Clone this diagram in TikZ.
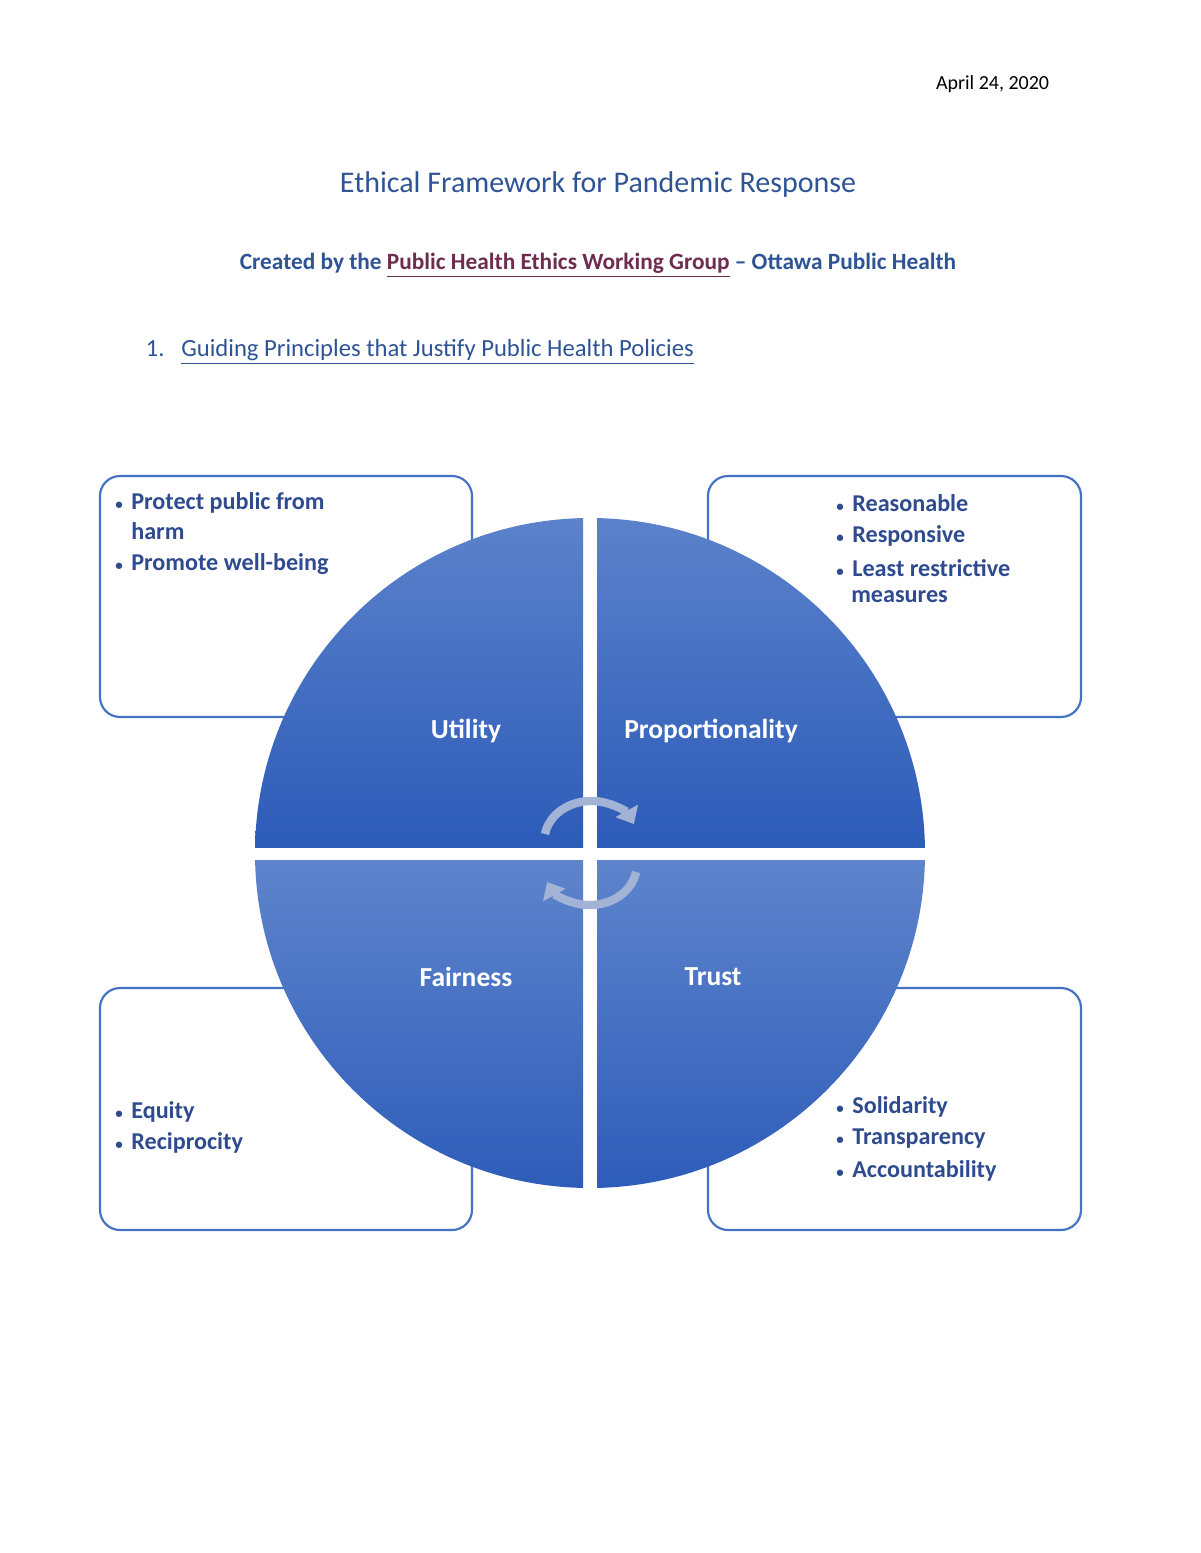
\documentclass[tikz,border=0pt]{standalone}
\usepackage{fontspec}
\setmainfont{Carlito}
\usetikzlibrary{arrows.meta}
\definecolor{boxblue}{HTML}{4472C4}
\definecolor{txtblue}{HTML}{2F4B8F}
\definecolor{titleblue}{HTML}{2F5496}
\definecolor{linkred}{HTML}{6E2C4F}
\definecolor{qtop}{HTML}{5E84CC}
\definecolor{qbot}{HTML}{2C5BB8}
\definecolor{arr}{HTML}{A3B3D6}
\begin{document}
\begin{tikzpicture}[x=0.6pt,y=-0.6pt,
  pbox/.style={draw=boxblue,line width=1.3pt,rounded corners=12pt,fill=white},
  blt/.style={anchor=west,inner sep=0pt,text=txtblue,font=\fontsize{14.5}{16}\selectfont\bfseries},
  qlabel/.style={text=white,font=\fontsize{16.5}{18}\selectfont\bfseries},
  carrow/.style={draw=arr,line width=5pt,-{Triangle[length=9pt,width=15pt]}}]
\useasboundingbox (0,0) rectangle (1200,1553);
\fill[white] (0,0) rectangle (1200,1553);
\node[anchor=east,font=\fontsize{12}{14}\selectfont] (date) at (1055,84) {April 24, 2020};
\node[text=titleblue,font=\fontsize{18}{21}\selectfont] (title) at (598,184) {Ethical Framework for Pandemic Response};
\node[text=titleblue,font=\fontsize{14}{16}\selectfont\bfseries] (sub) at (598,265) {Created by the \textcolor{linkred}{\underline{Public Health Ethics Working Group}} -- Ottawa Public Health};
\node[anchor=west,text=titleblue,font=\fontsize{14.8}{17}\selectfont] (h1) at (140,352) {1.\hspace{10pt}\underline{Guiding Principles that Justify Public Health Policies}};
% boxes
\draw[pbox] (100,476) rectangle (472,717);
\draw[pbox] (708,476) rectangle (1081,717);
\draw[pbox] (100,988) rectangle (472,1230);
\draw[pbox] (708,988) rectangle (1081,1230);
% circle quadrants
\begin{scope}
\clip (590,853) circle (335);
\shade[top color=qtop,bottom color=qbot] (200,500) rectangle (583,847);
\shade[top color=qtop,bottom color=qbot] (597,500) rectangle (1000,847);
\shade[top color=qtop,bottom color=qbot] (200,860) rectangle (583,1200);
\shade[top color=qtop,bottom color=qbot] (597,860) rectangle (1000,1200);
\end{scope}
\node[qlabel] (u) at (466,731) {Utility};
\node[qlabel] (p) at (711,731) {Proportionality};
\node[qlabel] (f) at (466,977) {Fairness};
\node[qlabel] (t) at (713,977) {Trust};
% center arrows
\draw[carrow] (545,834) arc[start angle=-170,end angle=-25,x radius=47,y radius=40];
\draw[carrow] (636,872) arc[start angle=10,end angle=155,x radius=47,y radius=40];
% bullets
\def\bl#1{\makebox[9.6pt][l]{\small\textbullet}#1}
\node[blt] (a1) at (115,503) {\bl{Protect public from}};
\node[blt] (a2) at (131,531) {harm};
\node[blt] (a3) at (115,564) {\bl{Promote well-being}};
\node[blt] (r1) at (836,503) {\bl{Reasonable}};
\node[blt] (r2) at (836,536) {\bl{Responsive}};
\node[blt] (r3) at (836,568) {\bl{Least restrictive}};
\node[blt] (r4) at (851,597) {measures};
\node[blt] (e1) at (115,1112) {\bl{Equity}};
\node[blt] (e2) at (115,1143) {\bl{Reciprocity}};
\node[blt] (s1) at (836,1107) {\bl{Solidarity}};
\node[blt] (s2) at (836,1139) {\bl{Transparency}};
\node[blt] (s3) at (836,1171) {\bl{Accountability}};
\end{tikzpicture}
\end{document}
